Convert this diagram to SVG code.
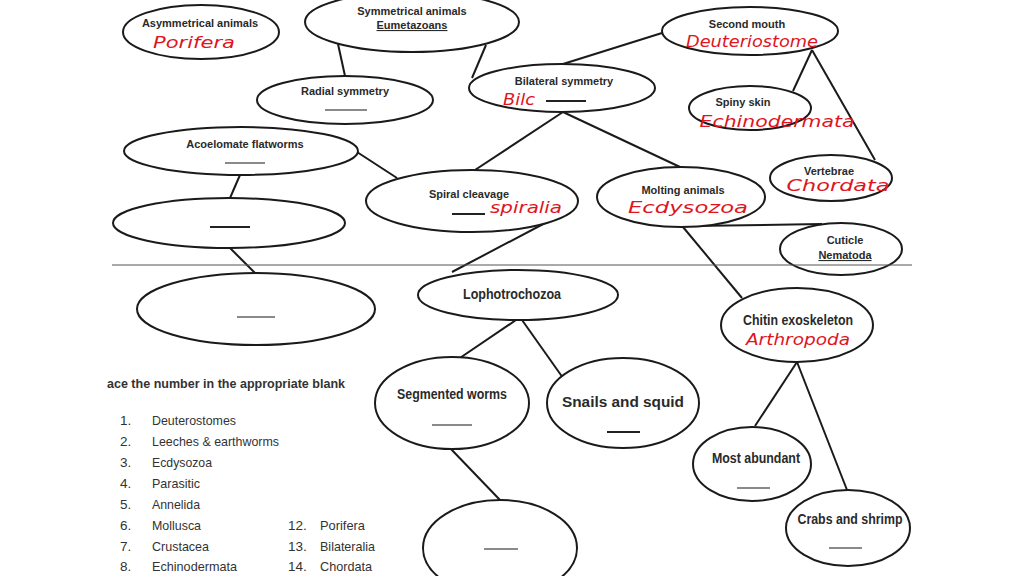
<svg xmlns="http://www.w3.org/2000/svg" width="1024" height="576" viewBox="0 0 1024 576">
<style>
.n{fill:#fff;stroke:#1a1a1a;stroke-width:2}
.c{stroke:#1a1a1a;stroke-width:2;fill:none}
.t{font-family:"Liberation Sans",Arial,sans-serif;font-weight:bold;font-size:11px;fill:#2a2a2a;text-anchor:middle}
.tb{font-family:"Liberation Sans",Arial,sans-serif;font-weight:bold;font-size:14px;fill:#2a2a2a;text-anchor:middle}
.u{text-decoration:underline}
.h{font-family:"DejaVu Sans",sans-serif;font-style:italic;font-size:16px;fill:#e0141e;text-anchor:middle}
.bg{stroke:#8a8a8a;stroke-width:2}
.bk{stroke:#222;stroke-width:2}
.l{font-family:"Liberation Sans",Arial,sans-serif;font-size:13.5px;fill:#333}
</style>
<rect width="1024" height="576" fill="#fff"/>
<g id="connectors">
<line class="c" x1="338" y1="44" x2="345" y2="76"/>
<line class="c" x1="486" y1="45" x2="472" y2="78"/>
<line class="c" x1="563" y1="64" x2="662" y2="33"/>
<line class="c" x1="812" y1="50" x2="793" y2="91"/>
<line class="c" x1="812" y1="50" x2="875" y2="160"/>
<line class="c" x1="563" y1="112" x2="475" y2="170"/>
<line class="c" x1="563" y1="112" x2="680" y2="167"/>
<line class="c" x1="357" y1="152" x2="397" y2="178"/>
<line class="c" x1="240" y1="175" x2="230" y2="198"/>
<line class="c" x1="230" y1="248" x2="255" y2="273"/>
<line class="c" x1="547" y1="222" x2="452" y2="272"/>
<line class="c" x1="690" y1="226" x2="822" y2="224"/>
<line class="c" x1="683" y1="227" x2="742" y2="298"/>
<line class="c" x1="516" y1="320" x2="454" y2="362"/>
<line class="c" x1="522" y1="320" x2="568" y2="385"/>
<line class="c" x1="450" y1="448" x2="500" y2="500"/>
<line class="c" x1="797" y1="362" x2="755" y2="426"/>
<line class="c" x1="797" y1="362" x2="847" y2="490"/>
</g>
<g id="asymmetrical">
<ellipse class="n" cx="201" cy="32" rx="78" ry="27"/>
<text class="t" x="200" y="27">Asymmetrical animals</text>
<text class="h" x="194" y="48" textLength="82" lengthAdjust="spacingAndGlyphs">Porifera</text>
</g>
<g id="symmetrical">
<ellipse class="n" cx="412" cy="22" rx="107" ry="30"/>
<text class="t" x="412" y="15">Symmetrical animals</text>
<text class="t u" x="412" y="29">Eumetazoans</text>
</g>
<g id="radial">
<ellipse class="n" cx="345" cy="100" rx="88" ry="24"/>
<text class="t" x="345" y="95">Radial symmetry</text>
<line class="bg" x1="325" y1="110" x2="367" y2="110"/>
</g>
<g id="bilateral">
<ellipse class="n" cx="562" cy="88" rx="93" ry="24"/>
<text class="t" x="564" y="85">Bilateral symmetry</text>
<line class="bk" x1="546" y1="101" x2="586" y2="101"/>
<text class="h" x="519" y="105" textLength="32" lengthAdjust="spacingAndGlyphs">Bilc</text>
</g>
<g id="second-mouth">
<ellipse class="n" cx="750" cy="31" rx="88" ry="24"/>
<text class="t" x="747" y="28">Second mouth</text>
<text class="h" x="752" y="47" textLength="132" lengthAdjust="spacingAndGlyphs">Deuteriostome</text>
</g>
<g id="spiny-skin">
<ellipse class="n" cx="750" cy="108" rx="61" ry="22"/>
<text class="t" x="743" y="106">Spiny skin</text>
<text class="h" x="777" y="127" textLength="155" lengthAdjust="spacingAndGlyphs">Echinodermata</text>
</g>
<g id="vertebrae">
<ellipse class="n" cx="831" cy="178" rx="61" ry="23"/>
<text class="t" x="829" y="175">Vertebrae</text>
<text class="h" x="838" y="191" textLength="103" lengthAdjust="spacingAndGlyphs">Chordata</text>
</g>
<g id="molting">
<ellipse class="n" cx="681" cy="197" rx="84" ry="30"/>
<text class="t" x="683" y="194">Molting animals</text>
<text class="h" x="688" y="213" textLength="120" lengthAdjust="spacingAndGlyphs">Ecdysozoa</text>
</g>
<g id="cuticle">
<ellipse class="n" cx="841" cy="249" rx="61" ry="26"/>
<text class="t" x="845" y="244">Cuticle</text>
<text class="t u" x="845" y="259">Nematoda</text>
</g>
<g id="acoelomate">
<ellipse class="n" cx="241" cy="151" rx="117" ry="24"/>
<text class="t" x="245" y="148">Acoelomate flatworms</text>
<line class="bg" x1="225" y1="163" x2="265" y2="163"/>
</g>
<g id="blank-1">
<ellipse class="n" cx="229" cy="223" rx="116" ry="25"/>
<line class="bk" x1="210" y1="227" x2="250" y2="227"/>
</g>
<g id="spiral">
<ellipse class="n" cx="472" cy="201" rx="106" ry="31"/>
<text class="t" x="469" y="198">Spiral cleavage</text>
<line class="bk" x1="452" y1="214" x2="485" y2="214"/>
<text class="h" x="526" y="213" textLength="72" lengthAdjust="spacingAndGlyphs">spiralia</text>
</g>
<line x1="112" y1="265" x2="912" y2="265" stroke="#555" stroke-width="1"/>
<g id="blank-2">
<ellipse class="n" cx="256" cy="309" rx="119" ry="36"/>
<line class="bg" x1="237" y1="317" x2="275" y2="317"/>
</g>
<g id="lophotrochozoa">
<ellipse class="n" cx="518" cy="295" rx="100" ry="25"/>
<text class="tb" x="512" y="299" textLength="98" lengthAdjust="spacingAndGlyphs">Lophotrochozoa</text>
</g>
<g id="segmented">
<ellipse class="n" cx="452" cy="403" rx="77" ry="46"/>
<text class="tb" x="452" y="399" textLength="110" lengthAdjust="spacingAndGlyphs">Segmented worms</text>
<line class="bg" x1="432" y1="425" x2="472" y2="425"/>
</g>
<g id="snails">
<ellipse class="n" cx="623" cy="403" rx="76" ry="45"/>
<text class="tb" x="623" y="407" textLength="122" lengthAdjust="spacingAndGlyphs">Snails and squid</text>
<line class="bk" x1="607" y1="432" x2="640" y2="432"/>
</g>
<g id="blank-3">
<ellipse class="n" cx="500" cy="548" rx="77" ry="48"/>
<line class="bg" x1="484" y1="549" x2="518" y2="549"/>
</g>
<g id="chitin">
<ellipse class="n" cx="797" cy="325" rx="76" ry="37"/>
<text class="tb" x="798" y="325" textLength="110" lengthAdjust="spacingAndGlyphs">Chitin exoskeleton</text>
<text class="h" x="798" y="345" textLength="104" lengthAdjust="spacingAndGlyphs">Arthropoda</text>
</g>
<g id="most-abundant">
<ellipse class="n" cx="752" cy="464" rx="59" ry="37"/>
<text class="tb" x="756" y="463" textLength="88" lengthAdjust="spacingAndGlyphs">Most abundant</text>
<line class="bg" x1="737" y1="488" x2="770" y2="488"/>
</g>
<g id="crabs">
<ellipse class="n" cx="848" cy="528" rx="62" ry="38"/>
<text class="tb" x="850" y="524" textLength="105" lengthAdjust="spacingAndGlyphs">Crabs and shrimp</text>
<line class="bg" x1="829" y1="548" x2="862" y2="548"/>
</g>
<g id="legend">
<text class="l" x="107" y="388" font-weight="bold" font-size="14" textLength="238" lengthAdjust="spacingAndGlyphs">ace the number in the appropriate blank</text>
<text class="l" x="120" y="425">1.</text><text class="l" x="152" y="425" textLength="84" lengthAdjust="spacingAndGlyphs">Deuterostomes</text>
<text class="l" x="120" y="446">2.</text><text class="l" x="152" y="446" textLength="127" lengthAdjust="spacingAndGlyphs">Leeches &amp; earthworms</text>
<text class="l" x="120" y="467">3.</text><text class="l" x="152" y="467" textLength="60" lengthAdjust="spacingAndGlyphs">Ecdysozoa</text>
<text class="l" x="120" y="488">4.</text><text class="l" x="152" y="488" textLength="48" lengthAdjust="spacingAndGlyphs">Parasitic</text>
<text class="l" x="120" y="509">5.</text><text class="l" x="152" y="509" textLength="48" lengthAdjust="spacingAndGlyphs">Annelida</text>
<text class="l" x="120" y="530">6.</text><text class="l" x="152" y="530" textLength="49" lengthAdjust="spacingAndGlyphs">Mollusca</text>
<text class="l" x="120" y="551">7.</text><text class="l" x="152" y="551" textLength="57" lengthAdjust="spacingAndGlyphs">Crustacea</text>
<text class="l" x="120" y="571">8.</text><text class="l" x="152" y="571" textLength="85" lengthAdjust="spacingAndGlyphs">Echinodermata</text>
<text class="l" x="288" y="530">12.</text><text class="l" x="320" y="530" textLength="45" lengthAdjust="spacingAndGlyphs">Porifera</text>
<text class="l" x="288" y="551">13.</text><text class="l" x="320" y="551" textLength="55" lengthAdjust="spacingAndGlyphs">Bilateralia</text>
<text class="l" x="288" y="571">14.</text><text class="l" x="320" y="571" textLength="52" lengthAdjust="spacingAndGlyphs">Chordata</text>
</g>
</svg>
